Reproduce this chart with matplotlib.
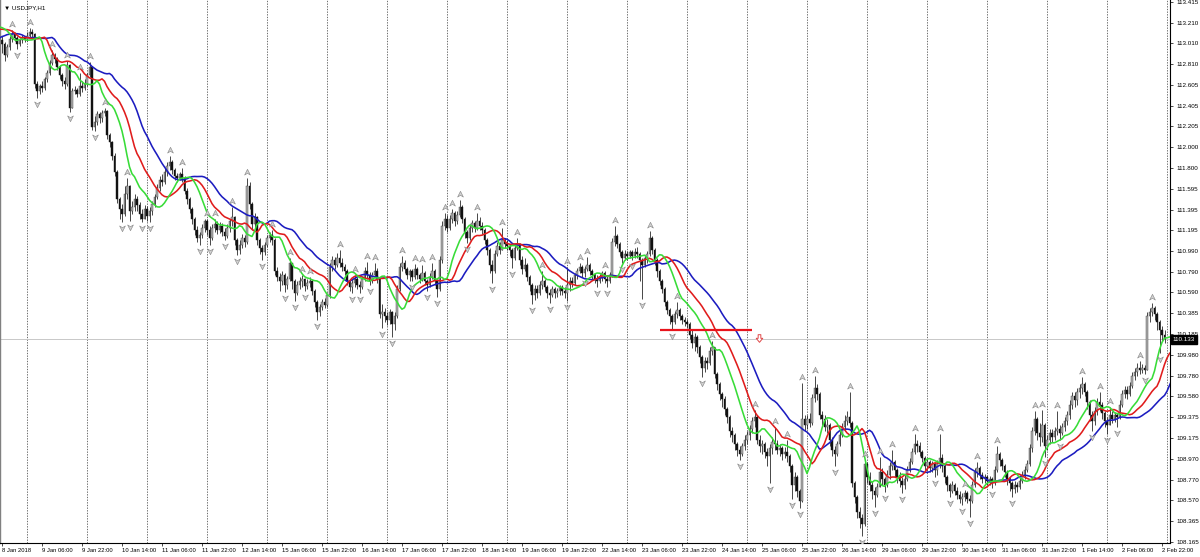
import numpy as np
import matplotlib
matplotlib.use("Agg")
import matplotlib.pyplot as plt
from matplotlib.path import Path
from matplotlib import transforms

plt.rcParams['font.family'] = ['Liberation Sans', 'DejaVu Sans']

# ---------------- data (USDJPY H1, bar 0 = 8 Jan 14:00) ----------------
pre_median = [112.90, 112.88, 112.92, 112.95, 112.90, 112.86, 112.90, 112.94, 112.98, 112.96,
              113.00, 113.04, 113.02, 113.08, 113.12, 113.10, 113.16, 113.20, 113.18, 113.22,
              113.24, 113.20, 113.24, 113.18, 113.22, 113.16, 113.12, 113.14, 113.10, 113.06]
pre_close = 113.04

close = [
113.00,112.90,112.97,113.05,113.10,113.06,113.00,113.04,113.06,113.05,
113.08,113.12,113.10,112.62,112.55,112.60,112.58,112.66,112.72,112.82,
112.90,112.86,112.78,112.70,112.64,112.62,112.80,112.38,112.55,112.56,
112.52,112.60,112.58,112.62,112.70,112.78,112.20,112.25,112.32,112.28,
112.33,112.35,112.12,112.05,111.92,111.76,111.50,111.40,111.35,111.55,
111.62,111.38,111.42,111.50,111.44,111.35,111.30,111.40,111.33,111.38,
111.45,111.52,111.60,111.68,111.66,111.76,111.82,111.86,111.78,111.72,
111.70,111.74,111.70,111.58,111.50,111.40,111.30,111.20,111.12,111.15,
111.22,111.28,111.20,111.12,111.22,111.25,111.20,111.24,111.18,111.14,
111.22,111.28,111.32,111.10,111.00,111.05,111.12,111.08,111.62,111.45,
111.25,111.32,111.10,111.02,110.98,111.05,111.12,111.15,111.10,110.80,
110.74,110.70,110.76,110.66,110.72,110.88,110.70,110.58,110.66,110.70,
110.72,110.65,110.68,110.70,110.60,110.50,110.40,110.45,110.50,110.47,
110.56,110.84,110.90,110.86,110.92,110.88,110.84,110.80,110.70,110.64,
110.68,110.72,110.66,110.64,110.72,110.80,110.76,110.70,110.76,110.80,
110.72,110.38,110.40,110.36,110.32,110.40,110.28,110.36,110.62,110.84,
110.88,110.82,110.76,110.80,110.74,110.82,110.76,110.72,110.78,110.70,
110.66,110.74,110.80,110.70,110.62,110.90,111.24,111.30,111.22,111.30,
111.36,111.28,111.34,111.42,111.30,111.18,111.12,111.22,111.26,111.22,
111.28,111.24,111.20,111.10,111.00,110.86,110.80,110.96,111.04,111.00,
111.10,111.06,111.04,111.00,110.92,111.02,111.06,110.90,110.82,110.86,
110.74,110.66,110.56,110.62,110.58,110.66,110.70,110.64,110.58,110.56,
110.62,110.58,110.60,110.64,110.60,110.58,110.66,110.70,110.68,110.76,
110.80,110.84,110.78,110.82,110.86,110.80,110.76,110.72,110.70,110.74,
110.78,110.72,110.70,110.76,111.08,111.14,111.06,110.98,110.92,110.96,
110.94,110.98,110.94,110.98,110.96,110.90,110.86,110.92,110.96,111.12,
111.00,110.90,110.80,110.70,110.62,110.50,110.42,110.36,110.30,110.38,
110.42,110.36,110.32,110.30,110.28,110.18,110.10,110.16,110.06,109.96,
109.86,109.92,109.90,110.02,110.06,109.80,109.70,109.60,109.55,109.46,
109.38,109.24,109.20,109.12,109.06,109.02,109.10,109.16,109.20,109.26,
109.34,109.38,109.16,109.10,109.12,109.04,109.00,109.08,109.14,109.12,
109.06,109.08,109.02,109.04,109.00,108.90,108.72,108.80,108.66,108.56,
109.36,109.30,109.36,109.32,109.56,109.66,109.60,109.40,109.36,109.28,
109.30,109.16,109.06,109.02,109.12,109.20,109.28,109.34,109.38,109.32,
108.74,108.60,108.46,108.40,108.34,108.92,108.80,108.72,108.66,108.62,
108.70,108.84,108.78,108.72,108.82,108.90,108.94,108.86,108.80,108.76,
108.72,108.78,108.86,108.94,109.04,109.12,109.10,109.04,108.98,108.90,
108.94,108.88,108.92,108.86,108.92,108.98,108.90,108.80,108.72,108.66,
108.72,108.66,108.62,108.58,108.60,108.64,108.58,108.56,108.72,108.84,
108.88,108.82,108.78,108.80,108.76,108.78,108.74,108.86,109.02,108.96,
108.90,108.84,108.78,108.74,108.68,108.72,108.70,108.76,108.82,108.86,
108.92,109.08,109.24,109.36,109.22,109.18,109.30,109.10,109.16,109.22,
109.18,109.24,109.26,109.22,109.28,109.34,109.40,109.50,109.58,109.54,
109.62,109.66,109.70,109.62,109.52,109.40,109.34,109.44,109.52,109.50,
109.42,109.34,109.30,109.40,109.36,109.40,109.38,109.50,109.60,109.64,
109.60,109.68,109.78,109.82,109.86,109.84,109.86,109.84,110.36,110.40,
110.44,110.38,110.30,110.22,110.18,110.133]

high = [
113.08,113.02,113.00,113.08,113.14,113.12,113.08,113.06,113.09,113.08,
113.12,113.16,113.15,113.11,112.64,112.62,112.64,112.68,112.75,112.85,
112.95,112.92,112.88,112.80,112.72,112.68,112.84,112.81,112.58,112.60,
112.58,112.72,112.64,112.66,112.72,112.83,112.79,112.30,112.35,112.34,
112.36,112.38,112.36,112.14,112.06,111.94,111.78,111.52,111.45,111.62,
111.70,111.63,111.48,111.55,111.53,111.47,111.40,111.44,111.43,111.42,
111.48,111.55,111.64,111.72,111.74,111.80,111.86,111.92,111.88,111.80,
111.75,111.76,111.80,111.72,111.60,111.52,111.42,111.32,111.24,111.18,
111.25,111.30,111.30,111.24,111.25,111.30,111.28,111.27,111.26,111.22,
111.25,111.30,111.42,111.33,111.12,111.10,111.16,111.15,111.70,111.66,
111.47,111.36,111.33,111.12,111.05,111.08,111.15,111.18,111.20,111.12,
110.84,110.78,110.80,110.78,110.75,110.92,110.88,110.72,110.70,110.74,
110.76,110.73,110.72,110.74,110.71,110.62,110.52,110.48,110.53,110.54,
110.58,110.88,110.94,110.93,110.97,111.00,110.92,110.87,110.82,110.72,
110.72,110.76,110.74,110.70,110.75,110.84,110.89,110.79,110.79,110.88,
110.83,110.74,110.48,110.44,110.40,110.43,110.41,110.40,110.66,110.88,
110.94,110.90,110.84,110.82,110.82,110.87,110.84,110.78,110.86,110.80,
110.72,110.78,110.88,110.82,110.72,110.94,111.28,111.36,111.34,111.34,
111.40,111.38,111.38,111.49,111.44,111.32,111.20,111.25,111.29,111.28,
111.36,111.32,111.27,111.22,111.12,111.02,110.90,111.00,111.08,111.08,
111.22,111.12,111.10,111.06,111.02,111.06,111.12,111.07,110.94,110.92,
110.88,110.76,110.68,110.66,110.66,110.70,110.80,110.72,110.66,110.62,
110.65,110.64,110.63,110.66,110.66,110.64,110.84,110.74,110.74,110.78,
110.83,110.88,110.86,110.85,110.93,110.88,110.82,110.78,110.76,110.77,
110.80,110.80,110.75,110.79,111.12,111.24,111.16,111.08,111.00,111.00,
110.99,111.00,111.00,111.02,111.03,110.98,110.92,110.95,110.99,111.19,
111.14,111.02,110.92,110.82,110.72,110.64,110.52,110.44,110.38,110.41,
110.50,110.44,110.38,110.35,110.33,110.30,110.22,110.20,110.18,110.08,
109.98,109.96,109.96,110.06,110.12,110.06,109.82,109.72,109.62,109.58,
109.48,109.40,109.28,109.22,109.14,109.10,109.13,109.20,109.24,109.30,
109.38,109.45,109.40,109.20,109.16,109.14,109.08,109.12,109.18,109.28,
109.16,109.12,109.10,109.09,109.16,109.02,108.92,108.84,108.82,108.68,
109.71,109.40,109.40,109.42,109.60,109.78,109.70,109.62,109.44,109.40,
109.36,109.32,109.18,109.10,109.15,109.24,109.32,109.40,109.44,109.62,
109.34,108.76,108.62,108.50,108.44,108.96,108.94,108.84,108.76,108.70,
108.74,108.99,108.88,108.80,108.86,108.94,109.06,108.96,108.88,108.84,
108.80,108.82,108.90,108.98,109.08,109.21,109.16,109.14,109.06,109.00,
108.98,108.96,108.95,108.94,108.96,109.21,109.02,108.92,108.82,108.74,
108.76,108.74,108.70,108.66,108.64,108.67,108.66,108.62,108.76,108.88,
108.94,108.90,108.84,108.83,108.82,108.81,108.80,108.90,109.10,109.04,
108.98,108.92,108.86,108.80,108.76,108.76,108.75,108.79,108.85,108.90,
108.96,109.12,109.28,109.44,109.38,109.32,109.45,109.32,109.20,109.26,
109.26,109.28,109.44,109.30,109.32,109.38,109.44,109.54,109.62,109.62,
109.66,109.70,109.77,109.72,109.64,109.54,109.44,109.48,109.56,109.62,
109.52,109.44,109.38,109.48,109.44,109.43,109.42,109.54,109.64,109.68,
109.68,109.72,109.82,109.86,109.90,109.92,109.89,109.88,110.40,110.44,
110.49,110.46,110.40,110.32,110.26,110.22]

low = [
112.92,112.84,112.88,112.95,113.02,113.03,112.96,112.98,113.01,113.02,
113.03,113.06,113.07,112.58,112.48,112.52,112.54,112.56,112.63,112.70,
112.80,112.82,112.75,112.66,112.60,112.57,112.60,112.34,112.38,112.52,
112.49,112.50,112.54,112.56,112.60,112.68,112.17,112.16,112.22,112.24,
112.25,112.30,112.08,112.00,111.88,111.72,111.46,111.30,111.27,111.33,
111.50,111.28,111.35,111.38,111.38,111.30,111.27,111.30,111.28,111.27,
111.34,111.42,111.50,111.58,111.62,111.64,111.72,111.78,111.74,111.68,
111.66,111.68,111.66,111.55,111.45,111.36,111.25,111.15,111.08,111.05,
111.12,111.18,111.15,111.05,111.10,111.18,111.16,111.17,111.14,111.10,
111.12,111.18,111.24,111.05,110.95,110.96,111.02,111.03,111.06,111.40,
111.20,111.22,111.05,110.96,110.90,110.95,111.03,111.08,111.05,110.76,
110.70,110.60,110.66,110.59,110.62,110.70,110.62,110.51,110.56,110.62,
110.64,110.60,110.62,110.64,110.56,110.45,110.32,110.36,110.42,110.44,
110.45,110.54,110.80,110.82,110.84,110.84,110.80,110.76,110.66,110.60,
110.58,110.64,110.62,110.58,110.62,110.70,110.72,110.66,110.68,110.74,
110.68,110.34,110.24,110.30,110.27,110.28,110.16,110.22,110.34,110.60,
110.80,110.78,110.72,110.70,110.70,110.72,110.72,110.68,110.70,110.66,
110.60,110.64,110.72,110.66,110.55,110.60,110.88,111.20,111.18,111.20,
111.26,111.24,111.25,111.32,111.26,111.12,111.07,111.10,111.18,111.18,
111.20,111.20,111.16,111.06,110.95,110.78,110.68,110.78,110.94,110.96,
111.00,111.02,111.00,110.94,110.83,110.90,111.00,110.86,110.77,110.80,
110.70,110.60,110.48,110.52,110.54,110.56,110.62,110.60,110.54,110.49,
110.55,110.54,110.55,110.56,110.56,110.54,110.51,110.60,110.64,110.66,
110.72,110.78,110.74,110.74,110.80,110.76,110.72,110.68,110.64,110.68,
110.70,110.68,110.64,110.68,110.74,111.04,111.02,110.94,110.88,110.90,
110.90,110.92,110.90,110.92,110.92,110.70,110.53,110.84,110.88,110.94,
110.96,110.86,110.74,110.66,110.58,110.46,110.38,110.28,110.22,110.28,
110.34,110.32,110.28,110.26,110.24,110.14,110.05,110.02,110.00,109.90,
109.77,109.82,109.85,109.88,109.98,109.76,109.64,109.54,109.48,109.40,
109.32,109.18,109.14,109.06,109.00,108.96,109.00,109.06,109.12,109.16,
109.22,109.28,109.12,109.04,109.02,108.98,108.90,108.74,109.02,109.06,
109.02,109.00,108.96,108.98,108.94,108.84,108.58,108.66,108.60,108.49,
108.55,109.24,109.26,109.28,109.30,109.52,109.54,109.36,109.30,109.24,
109.22,109.10,109.00,108.90,109.00,109.10,109.18,109.24,109.30,109.28,
108.70,108.54,108.40,108.30,108.22,108.32,108.74,108.66,108.58,108.50,
108.60,108.78,108.72,108.65,108.70,108.78,108.86,108.80,108.74,108.70,
108.64,108.68,108.76,108.84,108.92,109.02,109.04,109.00,108.94,108.86,
108.86,108.84,108.84,108.80,108.82,108.88,108.84,108.74,108.66,108.60,
108.64,108.62,108.58,108.54,108.52,108.56,108.54,108.41,108.54,108.70,
108.80,108.78,108.74,108.74,108.72,108.72,108.69,108.72,108.84,108.90,
108.86,108.80,108.72,108.66,108.60,108.64,108.65,108.68,108.74,108.78,
108.84,108.90,109.04,109.20,109.16,109.10,109.14,108.99,109.06,109.12,
109.14,109.16,109.20,109.16,109.20,109.24,109.30,109.36,109.46,109.48,
109.50,109.56,109.60,109.58,109.46,109.34,109.24,109.30,109.40,109.44,
109.36,109.28,109.21,109.32,109.32,109.33,109.28,109.36,109.48,109.56,
109.55,109.58,109.66,109.74,109.78,109.80,109.81,109.80,109.84,110.30,
110.36,110.32,110.22,110.00,110.12,110.10]

assert len(close) == len(high) == len(low) == 466, (len(close), len(high), len(low))

time_labels = ["8 Jan 2018", "9 Jan 06:00", "9 Jan 22:00", "10 Jan 14:00", "11 Jan 06:00",
               "11 Jan 22:00", "12 Jan 14:00", "15 Jan 06:00", "15 Jan 22:00", "16 Jan 14:00",
               "17 Jan 06:00", "17 Jan 22:00", "18 Jan 14:00", "19 Jan 06:00", "19 Jan 22:00",
               "22 Jan 14:00", "23 Jan 06:00", "23 Jan 22:00", "24 Jan 14:00", "25 Jan 06:00",
               "25 Jan 22:00", "26 Jan 14:00", "29 Jan 06:00", "29 Jan 22:00", "30 Jan 14:00",
               "31 Jan 06:00", "31 Jan 22:00", "1 Feb 14:00", "2 Feb 06:00", "2 Feb 22:00"]
time_label_bars = [0] + [16 * k for k in range(1, 30)]

price_ticks = [113.415, 113.210, 113.010, 112.810, 112.605, 112.405, 112.205, 112.000,
               111.800, 111.595, 111.395, 111.195, 110.990, 110.790, 110.590, 110.385,
               110.185, 109.980, 109.780, 109.580, 109.375, 109.175, 108.970, 108.770,
               108.570, 108.365, 108.165]
price_tick_labels = ["%.3f" % v for v in price_ticks]

grid_bars = [10 + 24 * k for k in range(20)]
bid_price = 110.133
red_level = 110.224
red_from_bar, red_to_bar = 263.2, 300.0
arrow_bar, arrow_price = 302.6, 110.15

# ---------------- derived ----------------
close = np.array(close); high = np.array(high); low = np.array(low)
opens = np.concatenate([[pre_close], close[:-1]])
high = np.maximum(high, np.maximum(opens, close))
low = np.minimum(low, np.minimum(opens, close))
n = len(close)
idx = np.arange(n)

def smma(vals, period):
    out = np.full(len(vals), np.nan)
    out[period - 1] = np.mean(vals[:period])
    for k in range(period, len(vals)):
        out[k] = (out[k - 1] * (period - 1) + vals[k]) / period
    return out

median = np.concatenate([np.array(pre_median), (high + low) / 2])
full_idx = np.arange(-len(pre_median), n)
jaw = smma(median, 13)
teeth = smma(median, 8)
lips = smma(median, 5)

# ---------------- figure ----------------
W, H = 1200, 557
fig = plt.figure(figsize=(W / 100, H / 100), dpi=100)
ax = fig.add_axes([0, 14 / H, 1170 / W, 543 / H])
ax.set_xlim(-0.8, 467.2)
ax.set_ylim(108.1546, 113.4315)

for g in grid_bars:
    ax.axvline(g, color='#555555', lw=0.6, ls=(0, (1.6, 1.6)), zorder=0)

ax.axhline(bid_price, color='#c8c8c8', lw=0.7, zorder=1)

bull = close >= opens
body_lo = np.minimum(opens, close)
body_h = np.maximum(np.abs(close - opens), 0.006)
ax.vlines(idx, low, high, color='#2a2a2a', lw=0.6, zorder=2)
ax.bar(idx[bull], body_h[bull], bottom=body_lo[bull], width=0.62,
       color='#b0b0b0', edgecolor='#3a3a3a', linewidth=0.3, zorder=2.5)
ax.bar(idx[~bull], body_h[~bull], bottom=body_lo[~bull], width=0.62,
       color='#111111', edgecolor='#111111', linewidth=0.3, zorder=2.5)

ax.plot(full_idx + 8, jaw, color='#1c1cc0', lw=1.15, zorder=3)
ax.plot(full_idx + 5, teeth, color='#e01c1c', lw=1.15, zorder=3.1)
ax.plot(full_idx + 3, lips, color='#38dc38', lw=1.15, zorder=3.2)

# fractals
up_f = [i for i in range(2, n - 2)
        if high[i] >= max(high[i - 1], high[i - 2]) and high[i] > max(high[i + 1], high[i + 2])]
dn_f = [i for i in range(2, n - 2)
        if low[i] <= min(low[i - 1], low[i - 2]) and low[i] < min(low[i + 1], low[i + 2])]
CL = Path.CLOSEPOLY
MV, LN = Path.MOVETO, Path.LINETO
up_path = Path([(0, 1), (0.9, -0.8), (0, -0.25), (-0.9, -0.8), (0, 1)], [MV, LN, LN, LN, CL])
dn_path = Path([(0, -1), (0.9, 0.8), (0, 0.25), (-0.9, 0.8), (0, -1)], [MV, LN, LN, LN, CL])
tr_up = transforms.offset_copy(ax.transData, fig=fig, x=0, y=6, units='dots')
tr_dn = transforms.offset_copy(ax.transData, fig=fig, x=0, y=-6, units='dots')
ax.plot(up_f, high[up_f], ls='none', marker=up_path, ms=4.6, mfc='#d2d2d2',
        mec='#8c8c8c', mew=0.45, transform=tr_up, zorder=4)
ax.plot(dn_f, low[dn_f], ls='none', marker=dn_path, ms=4.6, mfc='#d2d2d2',
        mec='#8c8c8c', mew=0.45, transform=tr_dn, zorder=4)

# red level and hollow down-arrow object
ax.hlines(red_level, red_from_bar, red_to_bar, color='#e8141c', lw=1.6, zorder=5)
arrow_path = Path([(-0.35, 1), (0.35, 1), (0.35, 0.05), (0.85, 0.05), (0, -1),
                   (-0.85, 0.05), (-0.35, 0.05), (-0.35, 1)],
                  [MV, LN, LN, LN, LN, LN, LN, CL])
ax.plot([arrow_bar], [arrow_price], ls='none', marker=arrow_path, ms=5.5,
        mfc='white', mec='#e04848', mew=0.7, zorder=5)

# axes styling
ax.spines['top'].set_visible(False)
ax.spines['left'].set_color('#808080'); ax.spines['left'].set_linewidth(1.0)
ax.spines['right'].set_color('#000000'); ax.spines['right'].set_linewidth(0.8)
ax.spines['bottom'].set_color('#000000'); ax.spines['bottom'].set_linewidth(0.8)

ax.yaxis.tick_right()
ax.set_yticks(price_ticks)
ax.set_yticklabels(price_tick_labels)
ax.tick_params(axis='y', direction='out', length=2.5, width=0.5, pad=2,
               labelsize=4.5, colors='black')
ax.set_xticks(time_label_bars)
ax.set_xticklabels(time_labels)
ax.tick_params(axis='x', direction='out', length=2.5, width=0.5, pad=1.2,
               labelsize=4.2, colors='black')
for lab in ax.get_xticklabels():
    lab.set_ha('left')

blend = transforms.blended_transform_factory(ax.transAxes, ax.transData)
ax.text(1.0 + 2.5 / 1170, bid_price, "110.133", transform=blend, ha='left', va='center',
        color='white', fontsize=4.5, zorder=10, clip_on=False,
        bbox=dict(boxstyle='square,pad=0.3', fc='black', ec='black'))

fig.text(4 / W, 1 - 8 / H, "\u25bc USDJPY,H1", fontsize=4.5, ha='left', va='center',
         family=['Liberation Sans', 'DejaVu Sans'])

fig.savefig("out.png", dpi=100, facecolor='white')
